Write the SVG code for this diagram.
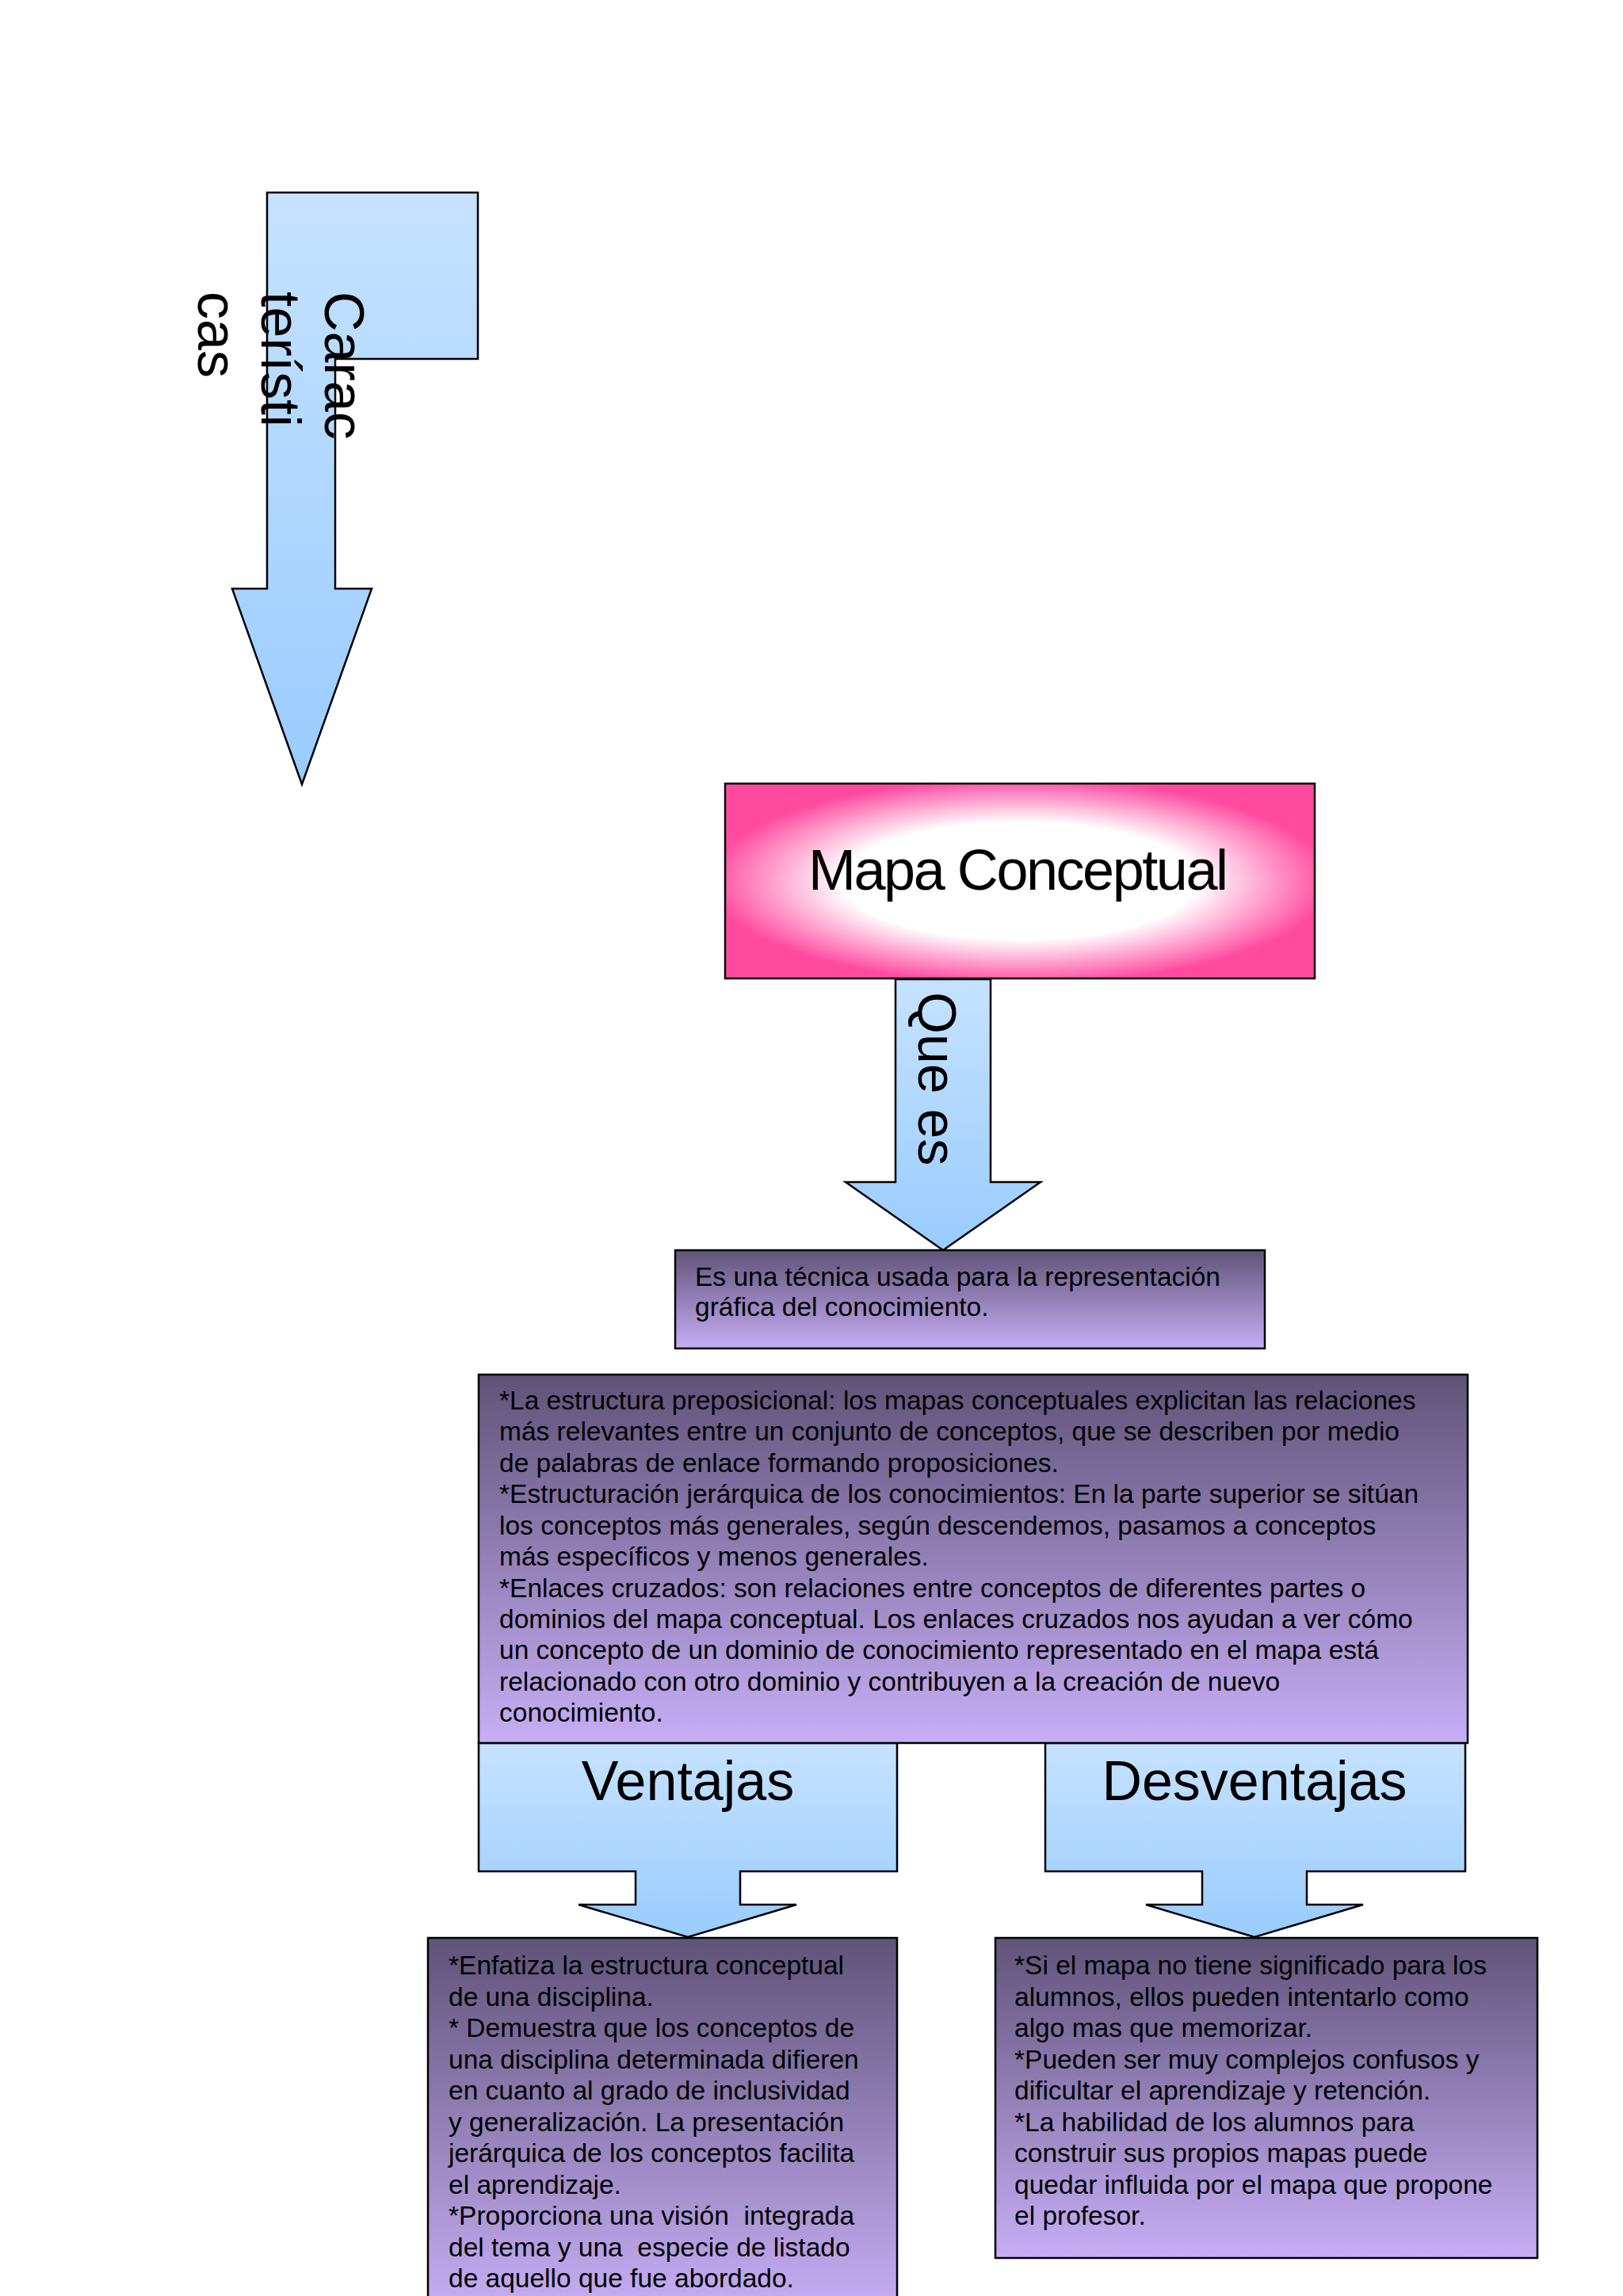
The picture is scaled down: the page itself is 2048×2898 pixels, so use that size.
<svg xmlns="http://www.w3.org/2000/svg" width="2048" height="2898" viewBox="0 0 2048 2898">
<style>
.sh{stroke:#000;stroke-width:2.5}
.blue{fill:url(#gb)}
.purp{fill:url(#gp)}
.t{font-family:"Liberation Sans",Arial,sans-serif;fill:#000}
.body{font-size:33.5px}
.big{font-size:70px}
</style>
<defs>
<linearGradient id="gb" x1="0" y1="0" x2="0" y2="1"><stop offset="0" stop-color="#c6e2ff"/><stop offset="1" stop-color="#99ccff"/></linearGradient>
<linearGradient id="gp" x1="0" y1="0" x2="0" y2="1"><stop offset="0" stop-color="#5f5378"/><stop offset="1" stop-color="#c7aef6"/></linearGradient>
<radialGradient id="gk" cx="0.5" cy="0.5" r="0.6"><stop offset="0.5" stop-color="#ffffff"/><stop offset="0.88" stop-color="#ff4aa0"/></radialGradient>
</defs>
<rect width="2048" height="2898" fill="#fff"/>
<g id="caracteristicas">
<path class="sh blue" d="M337 243H603V453H423V743H469L381 990L293 743H337Z"/>
<text class="t big" transform="translate(410,368) rotate(90)"><tspan x="0" y="0">Carac</tspan><tspan x="0" y="80">terísti</tspan><tspan x="0" y="160">cas</tspan></text>
</g>
<g id="mapa">
<rect class="sh" x="915" y="989" width="744" height="246" fill="url(#gk)"/>
<text class="t" x="1020" y="1123" font-size="72" textLength="530" font-family="'Comic Sans MS','DejaVu Sans',sans-serif">Mapa Conceptual</text>
</g>
<g id="connectors">
<g id="quees">
<path class="sh blue" d="M1130 1236H1250V1492H1313L1190 1578L1067 1492H1130Z"/>
<text class="t" font-size="68" transform="translate(1159,1252) rotate(90)">Que es</text>
</g>
<g id="ventajas">
<path class="sh blue" d="M604 2200H1132V2362H934V2404H1005L868 2445L730 2404H802V2362H604Z"/>
<text class="t big" x="868" y="2272" text-anchor="middle">Ventajas</text>
</g>
<g id="desventajas">
<path class="sh blue" d="M1319 2200H1849V2362H1649V2404H1720L1583 2445L1446 2404H1517V2362H1319Z"/>
<text class="t big" x="1583" y="2272" text-anchor="middle">Desventajas</text>
</g>
</g>
<g id="definicion">
<rect class="sh purp" x="852" y="1578" width="744" height="124"/>
<text class="t body" x="877" y="1623">Es una técnica usada para la representación</text>
<text class="t body" x="877" y="1661">gráfica del conocimiento.</text>
</g>
<g id="caracteristicas-texto">
<rect class="sh purp" x="604" y="1735" width="1248" height="465"/>
<text class="t body">
<tspan x="630" y="1779">*La estructura preposicional: los mapas conceptuales explicitan las relaciones</tspan>
<tspan x="630" y="1818">más relevantes entre un conjunto de conceptos, que se describen por medio</tspan>
<tspan x="630" y="1858">de palabras de enlace formando proposiciones.</tspan>
<tspan x="630" y="1897">*Estructuración jerárquica de los conocimientos: En la parte superior se sitúan</tspan>
<tspan x="630" y="1937">los conceptos más generales, según descendemos, pasamos a conceptos</tspan>
<tspan x="630" y="1976">más específicos y menos generales.</tspan>
<tspan x="630" y="2016">*Enlaces cruzados: son relaciones entre conceptos de diferentes partes o</tspan>
<tspan x="630" y="2055">dominios del mapa conceptual. Los enlaces cruzados nos ayudan a ver cómo</tspan>
<tspan x="630" y="2094">un concepto de un dominio de conocimiento representado en el mapa está</tspan>
<tspan x="630" y="2134">relacionado con otro dominio y contribuyen a la creación de nuevo</tspan>
<tspan x="630" y="2173">conocimiento.</tspan>
</text>
</g>
<g id="ventajas-texto">
<rect class="sh purp" x="540" y="2446" width="592" height="470"/>
<text class="t body" xml:space="preserve"><tspan x="566" y="2492">*Enfatiza la estructura conceptual</tspan><tspan x="566" y="2532">de una disciplina.</tspan><tspan x="566" y="2571">* Demuestra que los conceptos de</tspan><tspan x="566" y="2611">una disciplina determinada difieren</tspan><tspan x="566" y="2650">en cuanto al grado de inclusividad</tspan><tspan x="566" y="2690">y generalización. La presentación</tspan><tspan x="566" y="2729">jerárquica de los conceptos facilita</tspan><tspan x="566" y="2769">el aprendizaje.</tspan><tspan x="566" y="2808">*Proporciona una visión  integrada</tspan><tspan x="566" y="2848">del tema y una  especie de listado</tspan><tspan x="566" y="2887">de aquello que fue abordado.</tspan></text>
</g>
<g id="desventajas-texto">
<rect class="sh purp" x="1256" y="2446" width="684" height="404"/>
<text class="t body">
<tspan x="1280" y="2492">*Si el mapa no tiene significado para los</tspan>
<tspan x="1280" y="2532">alumnos, ellos pueden intentarlo como</tspan>
<tspan x="1280" y="2571">algo mas que memorizar.</tspan>
<tspan x="1280" y="2611">*Pueden ser muy complejos confusos y</tspan>
<tspan x="1280" y="2650">dificultar el aprendizaje y retención.</tspan>
<tspan x="1280" y="2690">*La habilidad de los alumnos para</tspan>
<tspan x="1280" y="2729">construir sus propios mapas puede</tspan>
<tspan x="1280" y="2769">quedar influida por el mapa que propone</tspan>
<tspan x="1280" y="2808">el profesor.</tspan>
</text>
</g>
</svg>
